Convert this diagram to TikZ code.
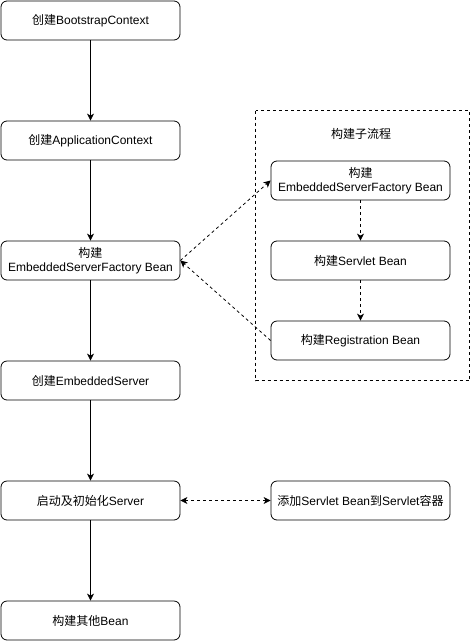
\documentclass[tikz,border=0pt]{standalone}
\usepackage{fontspec}
\setmainfont{Liberation Sans}
\newfontfamily\cjk{Noto Sans CJK SC}
\usetikzlibrary{arrows.meta}
\begin{document}
\begin{tikzpicture}[x=1pt,y=-1pt,
  box/.style={draw=black,line width=0.8pt,rounded corners=6pt,minimum width=179pt,minimum height=39pt,inner sep=0pt,font=\fontsize{12}{14}\selectfont,align=center,fill=white},
  arr/.style={line width=0.8pt,-{Stealth[length=7pt,width=7pt,inset=2pt]}},
  darr/.style={line width=0.8pt,dash pattern=on 3pt off 3pt,-{Stealth[length=7pt,width=7pt,inset=2pt]}},
  bdarr/.style={line width=0.8pt,dash pattern=on 3pt off 3pt,{Stealth[length=7pt,width=7pt,inset=2pt]}-{Stealth[length=7pt,width=7pt,inset=2pt]}},
]
\useasboundingbox (0,0) rectangle (471,641);
\fill[white] (0,0) rectangle (471,641);
\draw[line width=0.8pt,dash pattern=on 3pt off 3pt] (255.5,110.5) rectangle (469.5,380.5);
\node[font=\fontsize{12}{14}\selectfont] (title) at (361,134) {\cjk 构建子流程};
\node[box] (b1) at (90.5,20.5) {{\cjk 创建}BootstrapContext};
\node[box] (b2) at (90.5,140.5) {{\cjk 创建}ApplicationContext};
\node[box] (b3) at (90.5,260.5) {{\cjk 构建}\\EmbeddedServerFactory Bean};
\node[box] (b4) at (90.5,380.5) {{\cjk 创建}EmbeddedServer};
\node[box] (b5) at (90.5,500.5) {{\cjk 启动及初始化}Server};
\node[box] (b6) at (90.5,620.5) {{\cjk 构建其他}Bean};
\node[box] (s1) at (360.5,180.5) {{\cjk 构建}\\EmbeddedServerFactory Bean};
\node[box] (s2) at (360.5,260.5) {{\cjk 构建}Servlet Bean};
\node[box] (s3) at (360.5,340.5) {{\cjk 构建}Registration Bean};
\node[box] (r5) at (360.5,500.5) {{\cjk 添加}Servlet Bean{\cjk 到}Servlet{\cjk 容器}};
\draw[arr] (b1) -- (b2);
\draw[arr] (b2) -- (b3);
\draw[arr] (b3) -- (b4);
\draw[arr] (b4) -- (b5);
\draw[arr] (b5) -- (b6);
\draw[darr] (s1) -- (s2);
\draw[darr] (s2) -- (s3);
\draw[darr] (b3.east) -- (s1.west);
\draw[darr] (s3.west) -- (b3.east);
\draw[bdarr] (b5) -- (r5);
\end{tikzpicture}
\end{document}
